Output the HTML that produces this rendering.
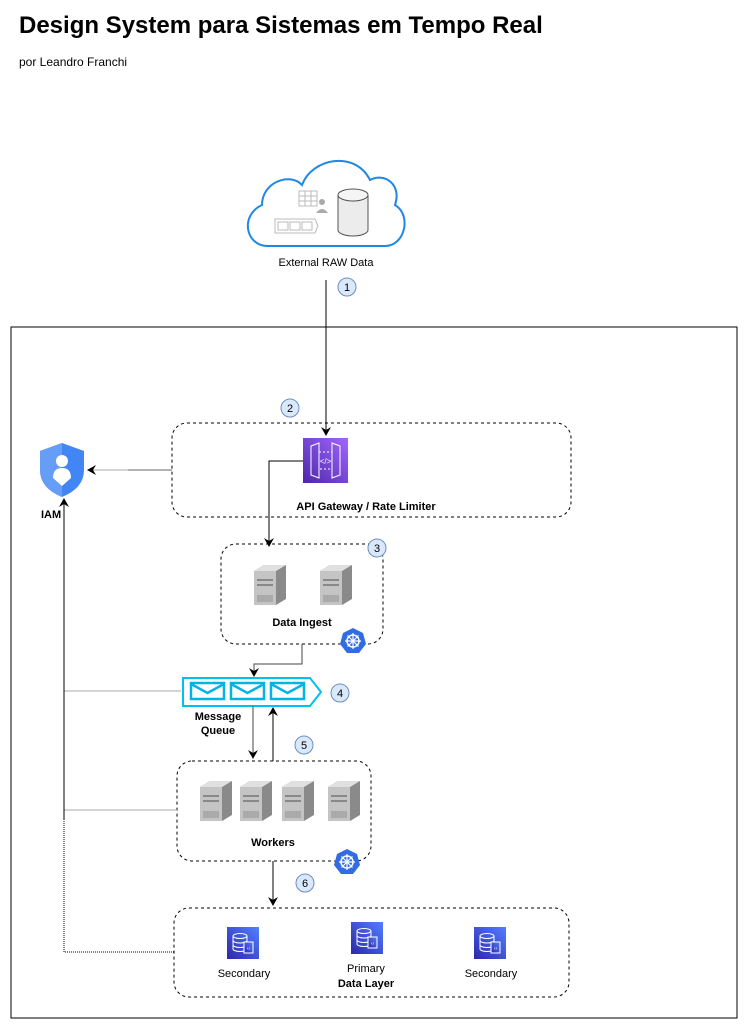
<!DOCTYPE html>
<html><head><meta charset="utf-8"><style>
html,body{margin:0;padding:0;background:#fff;}
svg{display:block;font-family:"Liberation Sans",Arial,sans-serif;}
</style></head><body>
<svg width="752" height="1032" viewBox="0 0 752 1032" xmlns="http://www.w3.org/2000/svg">
<defs>
<marker id="ar" markerWidth="10" markerHeight="10" refX="8" refY="5" orient="auto" markerUnits="userSpaceOnUse"><path d="M0,0 L9,5 L0,10 L3,5 Z" fill="#000"/></marker>
<linearGradient id="pg" x1="0" y1="1" x2="1" y2="0"><stop offset="0" stop-color="#4d27aa"/><stop offset="1" stop-color="#a166ff"/></linearGradient>
<linearGradient id="bg" x1="0" y1="1" x2="1" y2="0"><stop offset="0" stop-color="#2e27ad"/><stop offset="1" stop-color="#527fff"/></linearGradient>
<g id="srv"><path d="M0,6 L10,0 L32,0 L32,34 L22,40 L0,40 Z" fill="#8a8a8a"/><rect x="0" y="6" width="22" height="34" fill="#c4c4c4"/><path d="M0,6 L10,0 L32,0 L22,6 Z" fill="#e0e0e0"/><rect x="3" y="14" width="16" height="2" fill="#888"/><rect x="3" y="19" width="16" height="2" fill="#888"/><rect x="3" y="30" width="16" height="7" fill="#aaa"/></g>
<g id="db"><rect width="32" height="32" fill="url(#bg)"/><ellipse cx="13" cy="9" rx="7" ry="2.5" fill="none" stroke="#fff" stroke-width="1"/><path d="M6,9 V22 A7,2.5 0 0 0 20,22 V9 M6,13.5 A7,2.5 0 0 0 20,13.5 M6,18 A7,2.5 0 0 0 20,18" fill="none" stroke="#fff" stroke-width="1"/><rect x="17" y="15" width="9" height="11" fill="url(#bg)" stroke="#fff" stroke-width="1"/><text x="21.5" y="23" font-size="5" fill="#fff" text-anchor="middle">‹›</text></g>
<g id="k8"><path d="M0,-13 L10,-8 L13,3 L6,12 L-6,12 L-13,3 L-10,-8 Z" fill="#326ce5"/><circle r="6" fill="none" stroke="#fff" stroke-width="1.5"/><path d="M0,-8 V8 M-8,0 H8 M-5.5,-5.5 L5.5,5.5 M5.5,-5.5 L-5.5,5.5" stroke="#fff" stroke-width="1.2"/></g>
</defs>

<text x="19" y="33" font-size="24" font-weight="bold" fill="#000">Design System para Sistemas em Tempo Real</text>
<text x="19" y="66" font-size="12" fill="#000">por Leandro Franchi</text>

<path d="M268,246 C245,246 240,215 262,205 C262,182 290,172 302,185 C312,158 355,150 370,180 C385,172 402,185 395,205 C412,215 405,246 385,246 Z" fill="#fff" stroke="#1e88e5" stroke-width="2"/>
<rect x="299" y="191" width="18" height="15" fill="none" stroke="#bbb"/>
<path d="M299,196 H317 M299,201 H317 M305,191 V206 M311,191 V206" stroke="#bbb"/>
<circle cx="322" cy="202" r="3" fill="#aaa"/><path d="M316,213 Q322,205 328,213 Z" fill="#aaa"/>
<path d="M275,219 H315 L318,226 L315,233 H275 Z" fill="none" stroke="#bbb"/>
<rect x="278" y="222" width="10" height="8" fill="none" stroke="#bbb"/><rect x="290" y="222" width="10" height="8" fill="none" stroke="#bbb"/><rect x="302" y="222" width="10" height="8" fill="none" stroke="#bbb"/>
<path d="M338,195 V230 A15,6 0 0 0 368,230 V195" fill="#ececec" stroke="#555"/>
<ellipse cx="353" cy="195" rx="15" ry="6" fill="#f5f5f5" stroke="#555"/>
<text x="326" y="266" font-size="11" text-anchor="middle">External RAW Data</text>

<line x1="326" y1="280" x2="326" y2="435" stroke="#000" marker-end="url(#ar)"/>
<circle cx="347" cy="287" r="9" fill="#dae8fc" stroke="#6c8ebf"/><text x="347" y="291" font-size="11" text-anchor="middle">1</text>

<rect x="11" y="327" width="726" height="691" fill="none" stroke="#000"/>

<circle cx="290" cy="408" r="9" fill="#dae8fc" stroke="#6c8ebf"/><text x="290" y="412" font-size="11" text-anchor="middle">2</text>

<rect x="172" y="423" width="399" height="94" rx="15" fill="none" stroke="#000" stroke-dasharray="3,3"/>
<rect x="303" y="438" width="45" height="45" fill="url(#pg)"/>
<path d="M311,446 L319,443 V478 L311,475 Z M340,446 L332,443 V478 L340,475 Z" fill="none" stroke="#fff"/>
<rect x="319" y="452" width="13" height="17" fill="none" stroke="#fff" stroke-dasharray="2,2"/>
<text x="325.5" y="464" font-size="8" fill="#fff" text-anchor="middle">&lt;/&gt;</text>
<text x="366" y="510" font-size="11" font-weight="bold" text-anchor="middle">API Gateway / Rate Limiter</text>

<path d="M62,443 L84,451 V470 Q84,488 62,497 Q40,488 40,470 V451 Z" fill="#4285f4"/>
<path d="M62,443 L40,451 V470 Q40,488 62,497 Z" fill="#669df6"/>
<circle cx="62" cy="461" r="6" fill="#fff"/>
<path d="M53,478 Q53,468 62,468 Q71,468 71,478 L62,486 Z" fill="#fff"/>
<text x="41" y="518" font-size="11" font-weight="bold">IAM</text>
<line x1="172" y1="470" x2="128" y2="470" stroke="#666"/>
<line x1="128" y1="470" x2="88" y2="470" stroke="#aaa" marker-end="url(#ar)"/>

<polyline points="303,461 269,461 269,546" fill="none" stroke="#000" marker-end="url(#ar)"/>

<rect x="221" y="544" width="162" height="100" rx="15" fill="none" stroke="#000" stroke-dasharray="3,3"/>
<circle cx="377" cy="548" r="9" fill="#dae8fc" stroke="#6c8ebf"/><text x="377" y="552" font-size="11" text-anchor="middle">3</text>
<use href="#srv" x="254" y="565"/><use href="#srv" x="320" y="565"/>
<text x="302" y="626" font-size="11" font-weight="bold" text-anchor="middle">Data Ingest</text>
<use href="#k8" x="353" y="641"/>

<polyline points="302,644 302,664 254,664 254,676" fill="none" stroke="#444" marker-end="url(#ar)"/>

<path d="M183,678 H310 L321,692 L310,706 H183 Z" fill="#fff" stroke="#00c0f0" stroke-width="2"/>
<g fill="none" stroke="#00b4e6" stroke-width="2.5">
<rect x="191" y="683" width="33" height="16"/><path d="M191,684 L207.5,693 L224,684"/>
<rect x="231" y="683" width="33" height="16"/><path d="M231,684 L247.5,693 L264,684"/>
<rect x="271" y="683" width="33" height="16"/><path d="M271,684 L287.5,693 L304,684"/>
</g>
<circle cx="340" cy="693" r="9" fill="#dae8fc" stroke="#6c8ebf"/><text x="340" y="697" font-size="11" text-anchor="middle">4</text>
<text x="218" y="720" font-size="11" font-weight="bold" text-anchor="middle">Message</text>
<text x="218" y="734" font-size="11" font-weight="bold" text-anchor="middle">Queue</text>

<line x1="253" y1="706" x2="253" y2="758" stroke="#444" marker-end="url(#ar)"/>
<line x1="273" y1="761" x2="273" y2="708" stroke="#000" marker-end="url(#ar)"/>
<circle cx="304" cy="745" r="9" fill="#dae8fc" stroke="#6c8ebf"/><text x="304" y="749" font-size="11" text-anchor="middle">5</text>

<rect x="177" y="761" width="194" height="100" rx="15" fill="none" stroke="#000" stroke-dasharray="3,3"/>
<use href="#srv" x="200" y="781"/><use href="#srv" x="240" y="781"/><use href="#srv" x="282" y="781"/><use href="#srv" x="328" y="781"/>
<text x="273" y="846" font-size="11" font-weight="bold" text-anchor="middle">Workers</text>
<use href="#k8" x="347" y="862"/>

<line x1="273" y1="861" x2="273" y2="905" stroke="#000" marker-end="url(#ar)"/>
<circle cx="305" cy="883" r="9" fill="#dae8fc" stroke="#6c8ebf"/><text x="305" y="887" font-size="11" text-anchor="middle">6</text>

<rect x="174" y="908" width="395" height="89" rx="15" fill="none" stroke="#000" stroke-dasharray="3,3"/>
<use href="#db" x="227" y="927"/><use href="#db" x="351" y="922"/><use href="#db" x="474" y="927"/>
<text x="244" y="977" font-size="11" text-anchor="middle">Secondary</text>
<text x="366" y="972" font-size="11" text-anchor="middle">Primary</text>
<text x="366" y="987" font-size="11" font-weight="bold" text-anchor="middle">Data Layer</text>
<text x="491" y="977" font-size="11" text-anchor="middle">Secondary</text>

<line x1="181" y1="691" x2="64" y2="691" stroke="#aaa"/>
<line x1="177" y1="810" x2="64" y2="810" stroke="#aaa"/>
<polyline points="174,952 64,952 64,820" fill="none" stroke="#000" stroke-dasharray="1,1"/>
<line x1="64" y1="820" x2="64" y2="499" stroke="#000" marker-end="url(#ar)"/>
</svg>
</body></html>
